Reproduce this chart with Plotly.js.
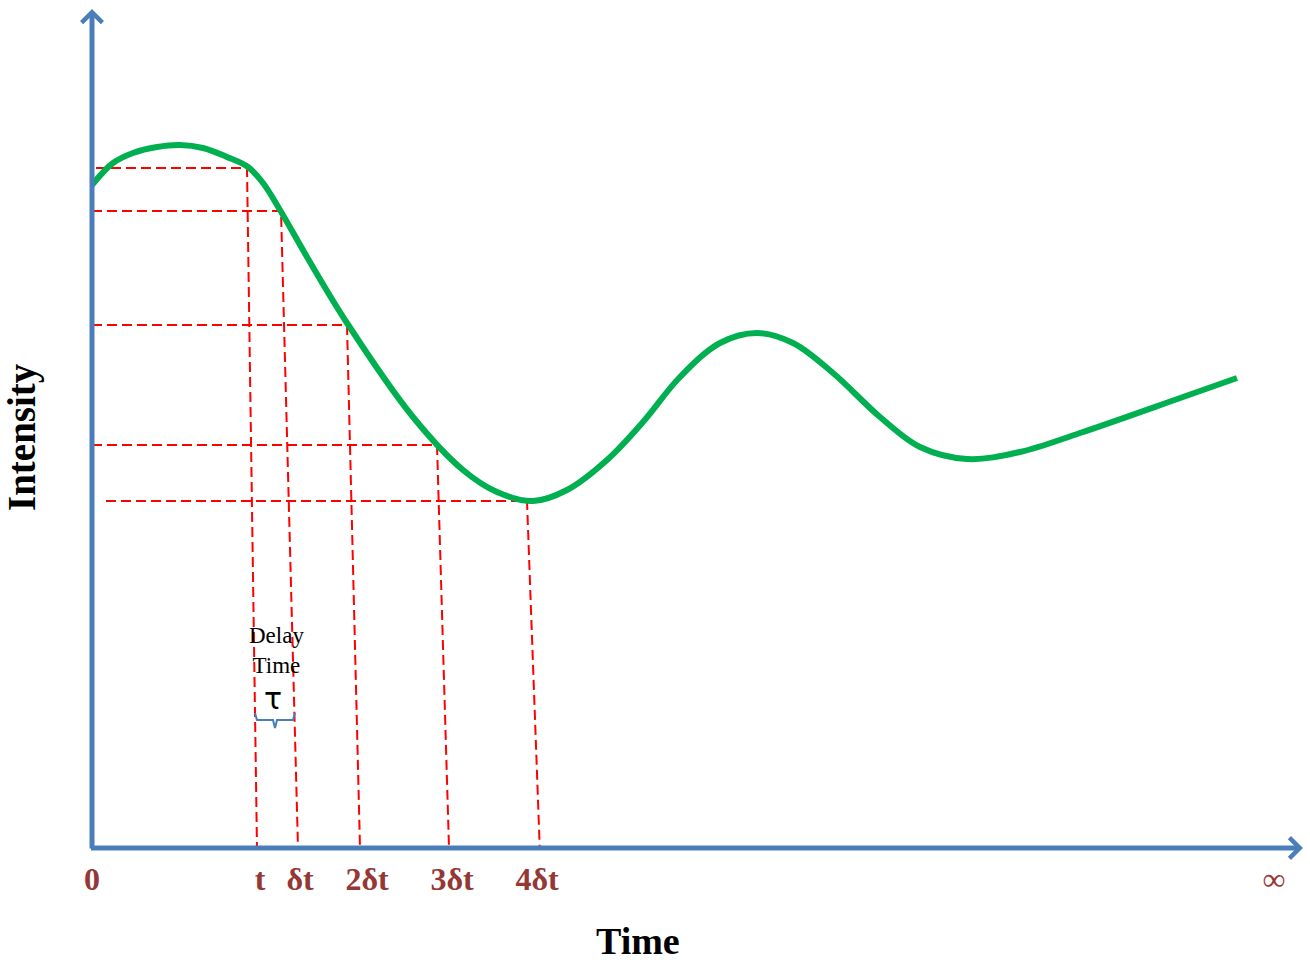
<!DOCTYPE html>
<html>
<head>
<meta charset="utf-8">
<script src="https://cdn.plot.ly/plotly-3.0.1.min.js"></script>
<style>
  html, body { margin: 0; padding: 0; background: #fff; }
  #chart { width: 1310px; height: 962px; }
</style>
</head>
<body>
<div id="chart"></div>
<script>
// Данные

// кривая интенсивности
const curveTime = [0, 0.21, 0.41, 0.65, 0.88, 1.11, 1.35, 1.56, 1.71, 1.88, 2.15, 2.55, 3.21,
  3.71, 4.05, 4.41, 4.75, 5.15, 5.51, 5.88, 6.28, 6.65, 7.01, 7.41, 7.88, 8.28, 8.75,
  9.28, 9.88, 10.91, 11.45];
const curveIntensity = [6.63, 6.85, 6.95, 7.01, 7.03, 7.0, 6.91, 6.81, 6.65, 6.38, 5.91, 5.25, 4.31,
  3.78, 3.56, 3.47, 3.58, 3.88, 4.26, 4.71, 5.05, 5.15, 5.05, 4.75, 4.31, 4.01, 3.89,
  3.96, 4.15, 4.51, 4.7];

// точки отсчёта (пунктирные линии)
const sampleTime = [1.55, 1.89, 2.55, 3.45, 4.35];
const sampleIntensity = [6.8, 6.37, 5.23, 4.03, 3.47];
const guideStart = [0.04, 0, 0, 0, 0.14];
const guideFoot = [1.65, 2.06, 2.68, 3.57, 4.48];
const guideFootLevel = [0, 0, 0, 0, -0.07];

// подписи оси времени
const tickTime = [0, 1.68, 2.08, 2.75, 3.6, 4.45, 11.82];
const tickLabels = ["<b>0</b>", "<b>t</b>", "<b>δt</b>", "<b>2δt</b>", "<b>3δt</b>", "<b>4δt</b>", "∞"];

// скобка задержки
const braceTime = [1.63, 1.65, 1.81, 1.83, 1.85, 2.01, 2.03];
const braceLevel = [1.35, 1.28, 1.28, 1.2, 1.28, 1.28, 1.35];

// Константы
const CHART_ID = "chart";
const AXIS_BLUE = "#4a7ebb";
const LABEL_RED = "#953735";
const SERIF = "Liberation Serif, Times New Roman, serif";
const X_MAX = 12.18;
const Y_MAX = 8.48;

// Трассы
let traces = [];

for (let i = 0; i < sampleTime.length; i++) {
  traces.push({
    x: [guideStart[i], sampleTime[i], guideFoot[i]],
    y: [sampleIntensity[i], sampleIntensity[i], guideFootLevel[i]],
    mode: "lines",
    line: { color: "#ff0000", width: 2, dash: "10px,5px" },
    hoverinfo: "skip",
  });
}

traces.push({
  x: curveTime,
  y: curveIntensity,
  mode: "lines",
  line: { color: "#00b050", width: 6, shape: "spline", smoothing: 1 },
  hoverinfo: "skip",
});

traces.push({
  x: braceTime,
  y: braceLevel,
  mode: "lines",
  line: { color: AXIS_BLUE, width: 2 },
  hoverinfo: "skip",
});

// Макет
const layout = {
  width: 1310,
  height: 962,
  margin: { l: 92, r: 0, t: 0, b: 114 },
  paper_bgcolor: "#fff",
  plot_bgcolor: "#fff",
  showlegend: false,
  xaxis: {
    range: [0, X_MAX],
    showgrid: false,
    zeroline: false,
    showline: false,
    ticks: "",
    tickvals: tickTime,
    ticktext: tickLabels,
    tickfont: { family: SERIF, size: 32, color: LABEL_RED },
    ticklabelstandoff: 9,
  },
  yaxis: {
    range: [0, Y_MAX],
    showgrid: false,
    zeroline: false,
    showline: false,
    showticklabels: false,
    ticks: "",
  },
  annotations: [
    // ось X
    {
      x: 12.11, y: 0, ax: -0.025, ay: 0, xref: "x", yref: "y", axref: "x", ayref: "y",
      text: "", showarrow: true, arrowhead: 4, arrowsize: 0.8, arrowwidth: 5, arrowcolor: AXIS_BLUE,
    },
    // ось Y
    {
      x: 0, y: 8.39, ax: 0, ay: -0.02, xref: "x", yref: "y", axref: "x", ayref: "y",
      text: "", showarrow: true, arrowhead: 4, arrowsize: 0.8, arrowwidth: 5, arrowcolor: AXIS_BLUE,
    },
    {
      xref: "paper", yref: "paper", xanchor: "center", yanchor: "middle",
      text: "<b>Time</b>", showarrow: false,
      font: { family: SERIF, size: 38, color: "#000" },
    },
    {
      xref: "paper", yref: "paper", xanchor: "center", yanchor: "middle",
      text: "<b>Intensity</b>", showarrow: false, textangle: -90,
      font: { family: SERIF, size: 39, color: "#000" },
    },
    {
      x: 1.84, y: 1.98, xref: "x", yref: "y", text: "Delay<br>Time", showarrow: false,
      font: { family: SERIF, size: 23, color: "#000" },
    },
    {
      x: 1.81, y: 1.5, xref: "x", yref: "y", text: "τ", showarrow: false,
      font: { family: "DejaVu Sans, sans-serif", size: 30, color: "#000" },
    },
  ],
};

// пиксельные позиции заголовков переводим в координаты бумаги
layout.annotations[2].x = (638 - 92) / (1310 - 92);
layout.annotations[2].y = (848 - 941) / 848;
layout.annotations[3].x = (22 - 92) / (1310 - 92);
layout.annotations[3].y = (848 - 437) / 848;

const config = { staticPlot: true, displayModeBar: false };

Plotly.newPlot(CHART_ID, traces, layout, config);
</script>
</body>
</html>
